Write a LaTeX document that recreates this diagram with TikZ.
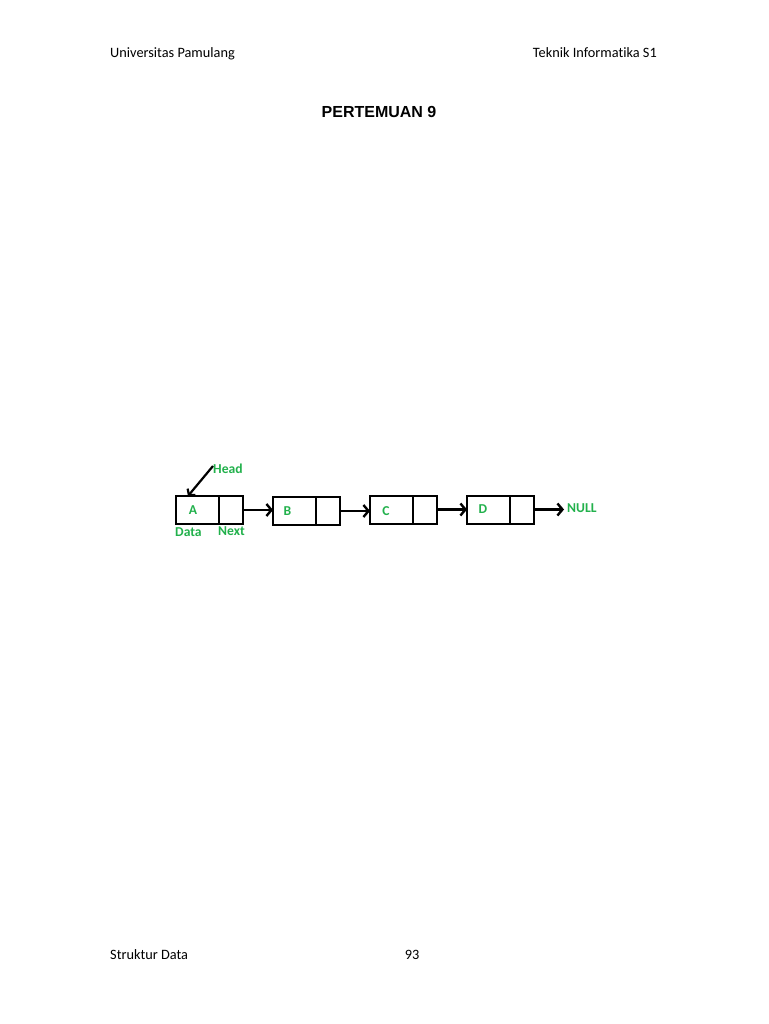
\documentclass[tikz,border=0pt]{standalone}
\usepackage{fontspec}
\setmainfont{Carlito}[Ligatures=NoCommon]
\newfontfamily\arialb{Liberation Sans}
\usetikzlibrary{arrows.meta}
\definecolor{pgreen}{HTML}{22B14C}
\begin{document}
\begin{tikzpicture}[x=1pt,y=-1pt,
  page/.style={font=\fontsize{14.3}{16}\selectfont, inner sep=0pt},
  datapart/.style={draw, line width=2pt, rectangle, minimum width=43pt, minimum height=28pt, inner sep=0pt, outer sep=0pt},
  nextpart/.style={draw, line width=2pt, rectangle, minimum width=24pt, minimum height=28pt, inner sep=0pt, outer sep=0pt, anchor=west},
  lbl/.style={text=pgreen, font=\bfseries\fontsize{13.6}{15}\selectfont, inner sep=0pt},
  link/.style={line width=2.6pt, -{Straight Barb[length=5pt,width=12pt,line width=2.4pt]}},
  headlink/.style={line width=2.2pt, -{Straight Barb[length=4pt,width=10pt,line width=2.2pt]}},
]
\path[fill=white] (0,0) rectangle (768,1024);
% page header / footer
\node[page, anchor=base west] (h1) at (110,58) {Universitas Pamulang};
\node[page, anchor=base east] (h2) at (657,58) {Teknik Informatika S1};
\node[font=\arialb\bfseries\fontsize{16}{18}\selectfont, inner sep=0pt, anchor=base] (title) at (379,118) {PERTEMUAN 9};
\node[page, anchor=base west] (f1) at (110,959) {Struktur Data};
\node[page, anchor=base] (f2) at (412,959) {93};
% list nodes
\node[datapart, label={[lbl,xshift=-4.5pt]center:A}] (a) at (197.5,510) {};
\node[nextpart] (an) at (a.east) {};
\node[datapart, label={[lbl,xshift=-7pt]center:B}] (b) at (294.5,511) {};
\node[nextpart] (bn) at (b.east) {};
\node[datapart, label={[lbl,xshift=-5.5pt,yshift=-2pt]center:C}] (c) at (391.5,509.5) {};
\node[nextpart] (cn) at (c.east) {};
\node[datapart, label={[lbl,xshift=-5.5pt]center:D}] (d) at (488.5,509.5) {};
\node[nextpart] (dn) at (d.east) {};
% labels
\node[lbl, anchor=west] (head) at (213,469) {Head};
\node[lbl, anchor=west] (null) at (567,508) {NULL};
\node[lbl, anchor=north west] (data) at (175,527) {Data};
\node[lbl, anchor=north] (next) at (231.5,526) {Next};
% connectors
\draw[headlink] ([yshift=3pt]head.west) -- ([xshift=12pt]a.north west);
\draw[link] (an.east) -- (b.west |- an.east);
\draw[link] (bn.east) -- (c.west |- bn.east);
\draw[link] (cn.east) -- (d.west |- cn.east);
\draw[link, shorten >=3pt] (dn.east) -- (null.west |- dn.east);
\end{tikzpicture}
\end{document}
